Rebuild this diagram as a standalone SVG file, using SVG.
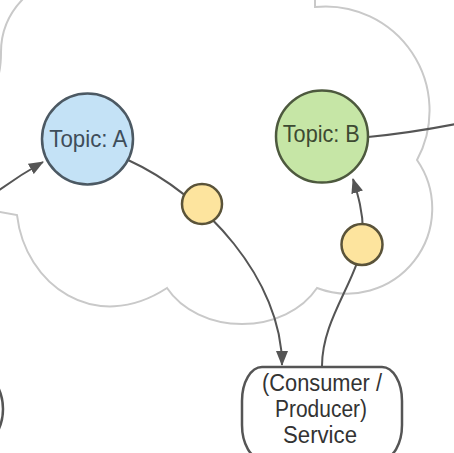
<svg xmlns="http://www.w3.org/2000/svg" width="454" height="453" viewBox="0 0 454 453">
<style>
.cloud{fill:none;stroke:#c9c9c9;stroke-width:2}
.conn{fill:none;stroke:#555;stroke-width:2}
.topic{stroke-width:2.5}
.msg{fill:#fde49e;stroke:#5a5339;stroke-width:2.5}
.lbl{font-family:"Liberation Sans",Arial,sans-serif;text-anchor:middle}
</style>
<defs>
<marker id="ah" markerUnits="userSpaceOnUse" markerWidth="15" markerHeight="12" viewBox="0 0 15 12" refX="14" refY="6" orient="auto">
<path d="M0,0 L15,6 L0,12 z" fill="#555"/>
</marker>
</defs>
<rect width="454" height="453" fill="#fff"/>
<g id="cloud">
<path class="cloud" d="M26,-4 C9,12 1,30 1,52 C1,62 0,72 -3,80"/>
<path class="cloud" d="M-5,211 L17,215 C25,285 95,335 167,288 A85 68 0 0 0 317,288 A85 85 0 0 0 417,160 A104 104 0 0 0 315,7 L315,-5"/>
</g>
<g id="connectors">
<path class="conn" d="M-2,191 Q20,175 43,162" marker-end="url(#ah)"/>
<path class="conn" d="M128,160 C205,195 282,280 282,365" marker-end="url(#ah)"/>
<path class="conn" d="M322,366 C322,315 363,275 363,232 C363,212 358,195 353,179" marker-end="url(#ah)"/>
<path class="conn" d="M368,137 Q410,133 456,124"/>
</g>
<g id="offscreen-node">
<circle cx="-45" cy="409" r="48" fill="#fff" stroke="#555" stroke-width="2.5"/>
</g>
<g id="topic-a">
<circle class="topic" cx="87.5" cy="139" r="45.5" fill="#c4e2f6" stroke="#4c5963"/>
<text class="lbl" x="88.3" y="146.5" font-size="24" textLength="78" lengthAdjust="spacingAndGlyphs" fill="#3e4d5a">Topic: A</text>
</g>
<g id="topic-b">
<circle class="topic" cx="322" cy="136.5" r="46" fill="#c6e6a6" stroke="#4d593e"/>
<text class="lbl" x="321.3" y="141.5" font-size="24" textLength="77" lengthAdjust="spacingAndGlyphs" fill="#3d4a32">Topic: B</text>
</g>
<g id="msg-1">
<circle class="msg" cx="202" cy="204" r="20"/>
</g>
<g id="msg-2">
<circle class="msg" cx="362" cy="244.5" r="20.5"/>
</g>
<g id="service">
<rect x="242" y="367" width="160" height="92" rx="20" ry="34" fill="#fff" stroke="#555" stroke-width="2.5"/>
<text class="lbl" font-size="23" fill="#333"><tspan x="322" y="390.5" textLength="120" lengthAdjust="spacingAndGlyphs">(Consumer /</tspan><tspan x="321" y="416.5" textLength="92" lengthAdjust="spacingAndGlyphs">Producer)</tspan><tspan x="320" y="442.5" textLength="74" lengthAdjust="spacingAndGlyphs">Service</tspan></text>
</g>
</svg>
